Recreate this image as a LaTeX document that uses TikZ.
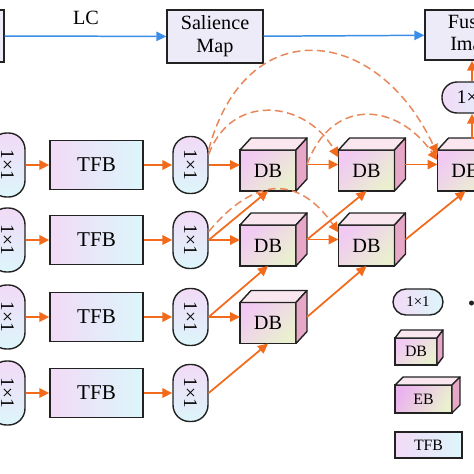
\documentclass[tikz,border=0pt]{standalone}
\usepackage{fontspec}
\setmainfont{Liberation Serif}
\usepackage{graphicx}
\usepackage{tikz}
\usetikzlibrary{calc}
\usetikzlibrary{arrows.meta}
\usetikzlibrary{positioning}
\definecolor{clcblue}{HTML}{3A8EE8}
\definecolor{corange}{HTML}{F26B1D}
\definecolor{cdash}{HTML}{E8875A}
\definecolor{cedge}{HTML}{222222}
\definecolor{cbox}{HTML}{EDEBF8}
\definecolor{cpink}{HTML}{F2DAF6}
\definecolor{ccyan}{HTML}{DCF6FB}
\definecolor{cdbfront}{HTML}{F1C9F3}
\definecolor{cdbgreen}{HTML}{EAF0CF}
\definecolor{cebfront}{HTML}{EBB3EE}
\definecolor{cdbtop}{HTML}{FAE6EF}
\definecolor{cdbside}{HTML}{E6A8C6}
\tikzset{plainbox/.style={rectangle,draw=cedge,line width=0.8pt,fill=cbox,align=center,inner sep=1pt,font=\fontsize{11.5}{13}\selectfont}}
\tikzset{tfb/.style={rectangle,draw=cedge,line width=0.8pt,left color=cpink,right color=ccyan,minimum width=1.86cm,minimum height=0.98cm,inner sep=1pt,font=\fontsize{12}{14}\selectfont}}
\tikzset{conv/.style={rectangle,rounded corners=0.33cm,draw=cedge,line width=0.8pt,top color=cpink,bottom color=ccyan,minimum width=0.7cm,minimum height=1.14cm,inner sep=0pt,font=\fontsize{11}{13}\selectfont}}
\tikzset{convh/.style={rectangle,rounded corners=0.3cm,draw=cedge,line width=0.8pt,left color=cpink,right color=ccyan,inner sep=0pt,font=\fontsize{11}{13}\selectfont}}
\tikzset{dbbox/.style={rectangle,draw=cedge,line width=0.8pt,outer sep=0pt,left color=cdbfront,right color=cdbgreen,shading angle=45,minimum width=1.12cm,minimum height=0.82cm,inner sep=0pt,font=\fontsize{11.5}{13}\selectfont}}
\tikzset{dbtopface/.style={draw=cedge,line width=0.8pt,line join=round,fill=cdbtop}}
\tikzset{dbsideface/.style={draw=cedge,line width=0.8pt,line join=round,fill=cdbside}}
\tikzset{oarrow/.style={draw=corange,line width=1pt,-{Triangle[length=2mm,width=1.9mm]}}}
\tikzset{odash/.style={draw=cdash,line width=0.85pt,dash pattern=on 4.5pt off 2.5pt,-{Triangle[length=2mm,width=1.9mm,fill=corange,color=corange]}}}
\tikzset{barrow/.style={draw=clcblue,line width=0.85pt,-{Triangle[length=2mm,width=1.9mm]}}}

\begin{document}
\begin{tikzpicture}[x=0.02cm,y=-0.02cm]
\useasboundingbox (0,0) rectangle (474,474);

% top line
\node[plainbox,minimum width=0.68cm,minimum height=1.04cm] (inp) at (-13,36) {};
\node[plainbox,minimum width=1.92cm,minimum height=1.06cm] (sal) at (215,36.5) {Salience\\Map};
\node[plainbox,minimum width=2.02cm,minimum height=1.0cm] (fus) at (475.5,35) {Fusion\\Image};
\node[font=\fontsize{11.5}{13}\selectfont] (lc) at (86,18) {LC};
\draw[barrow] (inp) -- (sal);
\draw[barrow] (sal) -- (fus);
\node[convh,minimum width=1.2cm,minimum height=0.62cm] (cf) at (472,97.5) {1×1};

% branches
\foreach \i / \y in {1/165,2/240,3/317,4/393}
{
	\node[conv,minimum height=1.28cm] (l\i) at (7.5,\y) {\rotatebox{-90}{1×1}};
	\node[tfb] (t\i) at (96.5,\y) {TFB};
	\node[conv] (m\i) at (190.5,\y) {\rotatebox{-90}{1×1}};
	\draw[oarrow] (l\i) -- (t\i);
	\draw[oarrow] (t\i) -- (m\i);
}

\node[dbbox] (d11) at (268,170.5) {DB};
\node[dbbox] (d12) at (366.5,170.5) {DB};
\node[dbbox] (d13) at (465.5,170.5) {DB};
\node[dbbox] (d21) at (268,245.5) {DB};
\node[dbbox] (d22) at (366.5,245.5) {DB};
\node[dbbox] (d31) at (268,323) {DB};

% legend
\node[convh,minimum width=1cm,minimum height=0.52cm,rounded corners=0.26cm,font=\fontsize{8.5}{10}\selectfont] (lconv) at (418,302) {1×1};
\node[circle,fill=cedge,inner sep=0pt,minimum size=0.1cm] (ldot) at (471.5,303) {};
\node[dbbox,minimum width=0.84cm,minimum height=0.54cm,font=\fontsize{9}{10}\selectfont] (ldb) at (416,351.5) {DB};
\node[dbbox,left color=cebfront,right color=cdbgreen,shading angle=60,minimum width=1.14cm,minimum height=0.56cm,font=\fontsize{9}{10}\selectfont] (leb) at (423.5,399) {EB};
\node[tfb,minimum width=1.34cm,minimum height=0.52cm,font=\fontsize{9}{10}\selectfont] (ltfb) at (428.5,445) {TFB};

\foreach \n / \dx / \dy in {d11/11/12,d12/11/12,d13/11/12,d21/11/12,d22/11/12,d31/11/12,ldb/6/8,leb/8/8}
{
	\filldraw[dbtopface] (\n.north west) -- ++(\dx,-\dy) -- ($(\n.north east)+(\dx,-\dy)$) -- (\n.north east) -- cycle;
	\filldraw[dbsideface] (\n.north east) -- ++(\dx,-\dy) -- ($(\n.south east)+(\dx,-\dy)$) -- (\n.south east) -- cycle;
	\coordinate (\n-r) at ($(\n.east)+(\dx,-0.5*\dy)$);
	\coordinate (\n-t) at ($(\n.north)+(\dx,-\dy)$);
}

\foreach \i in {1,2,3}
{
	\draw[oarrow] (m\i) -- (m\i -| d\i1.west);
}
\draw[oarrow] (d11-r) -- (d11-r -| d12.west);
\draw[oarrow] (d12-r) -- (d12-r -| d13.west);
\draw[oarrow] (d21-r) -- (d21-r -| d22.west);

\draw[oarrow] (m2.east) -- (d11.south);
\draw[oarrow] (m3.east) -- (d21.south);
\draw[oarrow] (m4.east) -- (d31.south);
\draw[oarrow] (d21-r) -- (d12.south);
\draw[oarrow] (d31-r) -- (d22.south);
\draw[oarrow] (d22-r) -- (d13.south);

\draw[oarrow] (d13-t) -- (cf.south |- d13-t) -- (cf.south);
\draw[oarrow] (cf.north) -- (cf.north |- fus.south);

% dense links
\draw[odash] (m1.30) to[out=70,in=120,looseness=1.3] (d12.155);
\draw[odash] (m1.40) to[out=75,in=115,looseness=1.6] (d13.150);
\draw[odash] (d11-r) to[out=70,in=125,looseness=1.4] (d13.160);
\draw[odash] (m2.25) to[out=50,in=125,looseness=1.4] (d22.155);

\end{tikzpicture}
\end{document}
